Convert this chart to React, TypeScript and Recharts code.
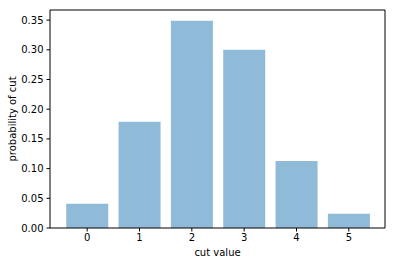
import { ComposedChart, Bar, Line, XAxis, YAxis } from "recharts"

const cuts = ["0", "1", "2", "3", "4", "5"]
const probs = [0.041, 0.179, 0.349, 0.3, 0.113, 0.024]
const yTicks = [0, 0.05, 0.1, 0.15, 0.2, 0.25, 0.3, 0.35]

const data = cuts.map((c, i) => ({ cut: c, p: probs[i] }))

const font = "'DejaVu Sans', sans-serif"
const tick = { fontSize: 10, fill: "#000", fontFamily: font }

export default function App() {
  return (
    <div style={{ position: "absolute", left: 0, top: 0, width: 395, height: 266, background: "#fff" }}>
      <ComposedChart width={395} height={266} data={data} margin={{ top: 9, right: 9, left: 0, bottom: 0 }}>
        <XAxis
          dataKey="cut"
          height={38}
          padding={{ left: 11, right: 10 }}
          tick={tick}
          tickSize={3.5}
          tickMargin={2}
          axisLine={{ stroke: "#000" }}
          tickLine={{ stroke: "#000" }}
          label={{
            content: ({ viewBox }: any) => (
              <text x={viewBox.x + viewBox.width / 2} y={viewBox.y + 28} textAnchor="middle"
                fontSize={10} fontFamily={font} fill="#000">cut value</text>
            ),
          }}
        />
        {/* top + right spines */}
        <XAxis xAxisId="top" dataKey="cut" orientation="top" height={1} tick={false} tickLine={false}
          axisLine={{ stroke: "#000" }} padding={{ left: 11, right: 10 }} />
        <YAxis
          type="number"
          domain={[0, 0.367]}
          ticks={yTicks}
          allowDataOverflow
          width={50}
          tick={tick}
          tickSize={3.5}
          tickMargin={3}
          tickFormatter={(v: number) => v.toFixed(2)}
          axisLine={{ stroke: "#000" }}
          tickLine={{ stroke: "#000" }}
          label={{
            content: ({ viewBox }: any) => {
              const x = viewBox.x + 12
              const y = viewBox.y + viewBox.height / 2
              return (
                <text x={x} y={y} transform={`rotate(-90, ${x}, ${y})`} textAnchor="middle"
                  dominantBaseline="central" fontSize={10} fontFamily={font} fill="#000">
                  probability of cut
                </text>
              )
            },
          }}
        />
        <YAxis yAxisId="right" orientation="right" type="number" domain={[0, 1]} width={1}
          tick={false} tickLine={false} axisLine={{ stroke: "#000" }} />
        <Bar dataKey="p" fill="#1f77b4" fillOpacity={0.5} isAnimationActive={false} />
        <Line dataKey="p" xAxisId="top" yAxisId="right" stroke="none" dot={false} activeDot={false}
          isAnimationActive={false} legendType="none" />
      </ComposedChart>
    </div>
  )
}
